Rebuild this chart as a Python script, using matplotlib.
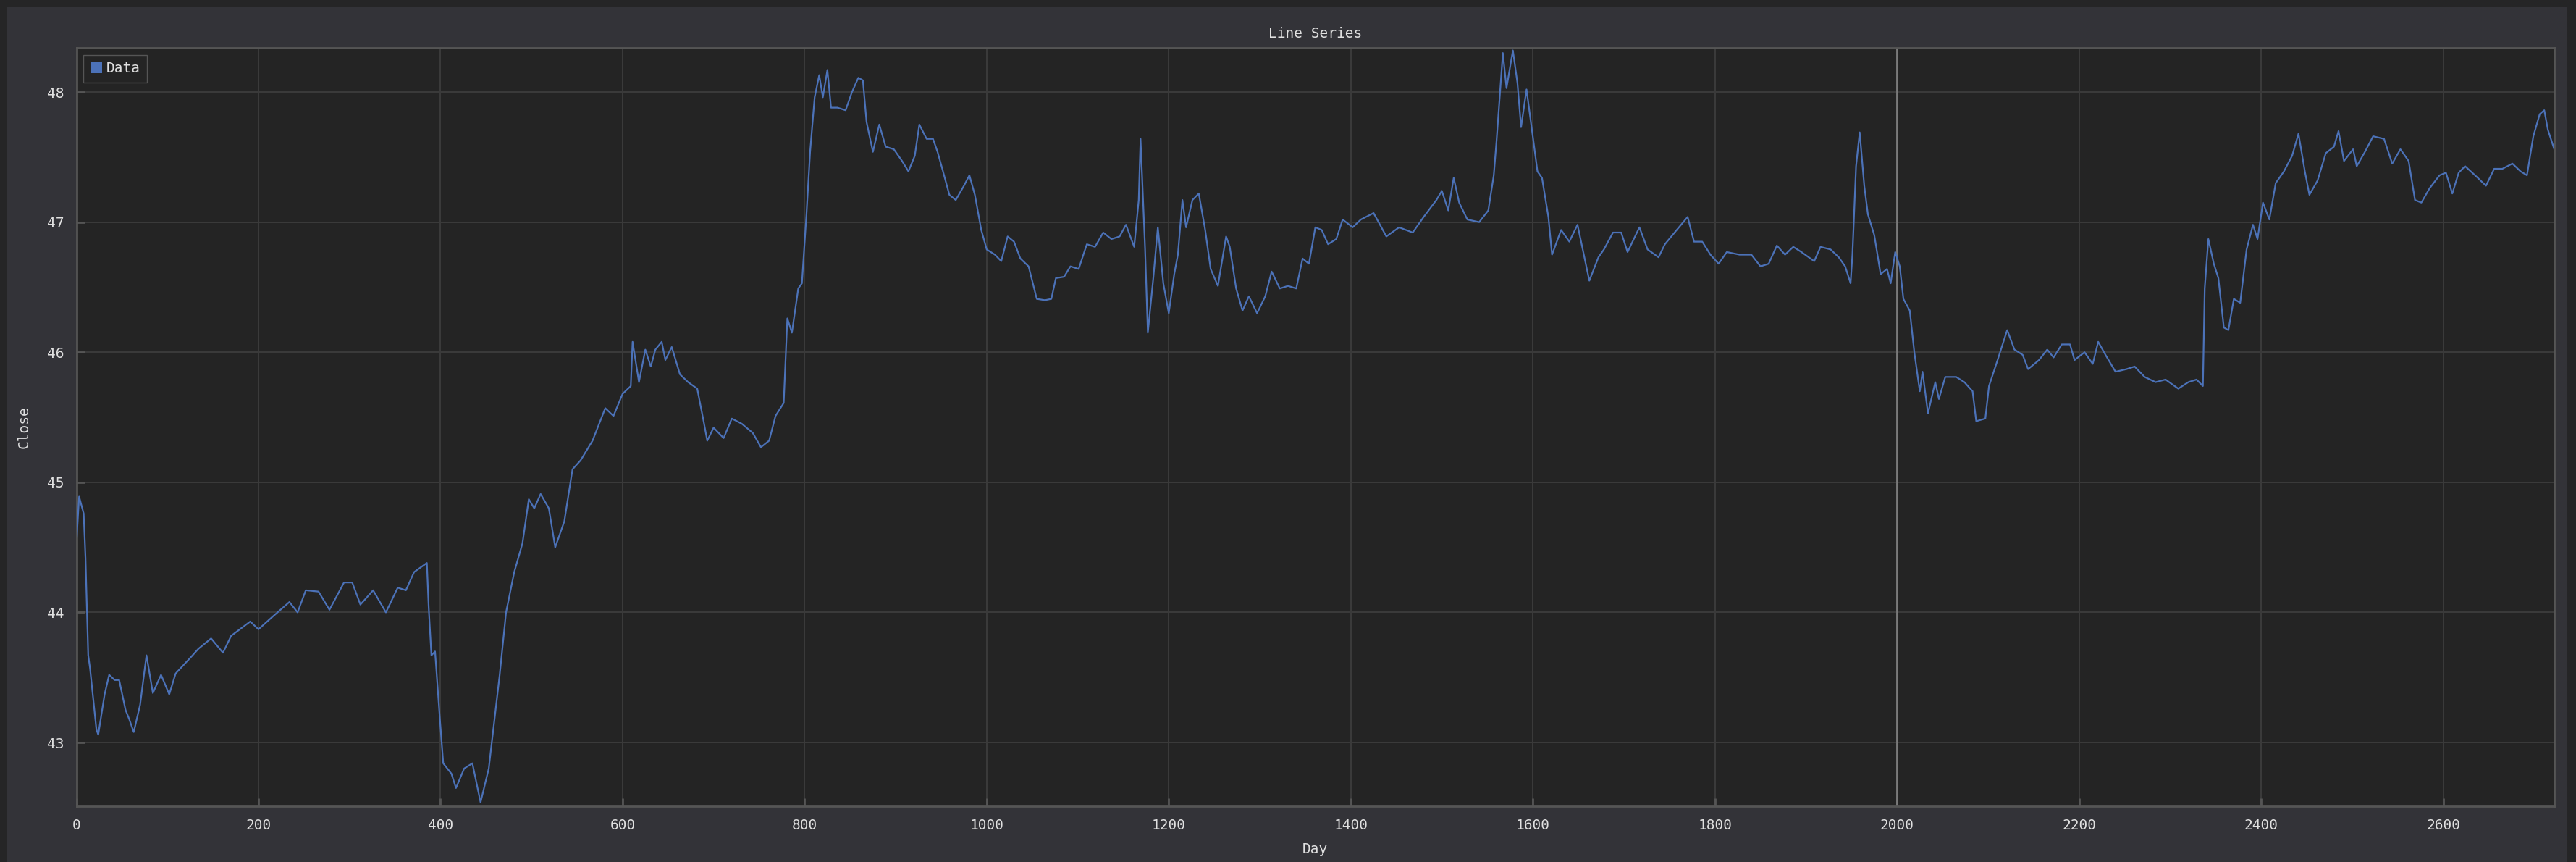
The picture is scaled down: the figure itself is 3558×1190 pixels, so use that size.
"""
Line Series chart: daily close values, dark ImPlot-like style.
"""

import matplotlib
matplotlib.use("Agg")
import matplotlib.pyplot as plt
from matplotlib.patches import Rectangle, Patch

# Values (day, close)
days = [
    0, 3, 8, 10, 13, 15, 22, 24, 31, 36, 42, 47, 54, 58, 63, 70, 77, 84, 93,
    102, 109, 125, 134, 148, 161, 170, 191, 200, 216, 234, 243, 252, 266,
    278, 294, 303, 312, 326, 340, 353, 362, 371, 385, 387, 390, 394, 399,
    403, 412, 417, 426, 435, 444, 453, 458, 465, 472, 481, 490, 497, 503,
    510, 519, 526, 536, 545, 554, 567, 581, 590, 600, 609, 611, 618, 625,
    631, 636, 643, 647, 654, 663, 672, 682, 689, 693, 700,
    711, 720, 731, 743, 752, 761, 768, 777, 781, 786, 793, 797, 802, 806,
    811, 816, 820, 825, 829, 836, 845, 852, 859, 864, 868, 875, 882, 889,
    898, 907, 914, 921, 926, 934, 941, 946, 952, 959, 966, 975, 981, 987,
    994, 1000, 1009, 1016, 1023, 1030, 1037, 1046, 1055, 1064, 1071, 1076,
    1085, 1092, 1101, 1110, 1119, 1128, 1137, 1146, 1153, 1162, 1167, 1169,
    1174, 1177, 1183, 1188, 1194, 1200, 1206, 1210, 1215, 1219, 1226, 1233,
    1240, 1246, 1254, 1263, 1267, 1274, 1281, 1288, 1297, 1306, 1313, 1322,
    1331, 1340, 1347, 1354, 1361, 1368, 1375, 1384,
    1391, 1402, 1411, 1425, 1439, 1453, 1468, 1480, 1494, 1500, 1507, 1513,
    1519, 1528, 1541, 1551, 1557, 1560, 1567, 1571, 1578, 1583, 1587, 1593,
    1601, 1605, 1610, 1617, 1621, 1631, 1640, 1649, 1656, 1662, 1672, 1678,
    1688, 1697, 1704, 1717, 1726, 1738, 1745, 1758, 1770, 1777, 1786, 1795,
    1804, 1813, 1827, 1840, 1850, 1859, 1868, 1877, 1886, 1895, 1909, 1916,
    1927, 1936, 1943, 1949, 1951, 1955, 1959, 1964, 1968, 1975, 1982, 1989,
    1993, 1998, 2003, 2007, 2014, 2019,
    2025, 2028, 2034, 2042, 2046, 2053, 2065, 2074, 2083, 2087, 2097, 2101,
    2110, 2121, 2129, 2138, 2144, 2156, 2165, 2172, 2181, 2190, 2195, 2206,
    2215, 2221, 2229, 2240, 2252, 2261, 2272, 2284, 2295, 2309, 2320, 2329,
    2336, 2338, 2342, 2348, 2353, 2359, 2364, 2370, 2377, 2384, 2391, 2396,
    2402, 2409, 2416, 2425, 2434, 2441, 2448, 2453, 2462, 2471, 2480, 2485,
    2491, 2501, 2505, 2514, 2523, 2535, 2544, 2553, 2562, 2569, 2576, 2585,
    2596, 2603, 2610, 2617, 2624, 2635, 2647, 2656, 2665, 2676, 2685, 2692,
    2699, 2706, 2711, 2715, 2722,
]
close = [
    44.53, 44.89, 44.76, 44.42, 43.67, 43.57, 43.10, 43.06, 43.37, 43.52,
    43.48, 43.48, 43.25, 43.18, 43.08, 43.29, 43.67, 43.38, 43.52, 43.37,
    43.53, 43.65, 43.72, 43.80, 43.69, 43.82, 43.93, 43.87, 43.97, 44.08,
    44.00, 44.17, 44.16, 44.02, 44.23, 44.23, 44.06, 44.17, 44.00, 44.19,
    44.17, 44.31, 44.38, 44.04, 43.67, 43.70, 43.21, 42.84, 42.76, 42.65,
    42.80, 42.84, 42.54, 42.80, 43.10, 43.52, 44.00, 44.31, 44.53, 44.87,
    44.80, 44.91, 44.80, 44.50, 44.70, 45.10, 45.17, 45.32, 45.57, 45.51,
    45.68, 45.74, 46.08, 45.77, 46.02, 45.89, 46.02, 46.08, 45.94, 46.04,
    45.83, 45.77, 45.72, 45.47, 45.32, 45.42,
    45.34, 45.49, 45.45, 45.38, 45.27, 45.32, 45.51, 45.61, 46.26, 46.15,
    46.49, 46.53, 47.06, 47.54, 47.96, 48.13, 47.96, 48.17, 47.88, 47.88,
    47.86, 48.00, 48.11, 48.09, 47.77, 47.54, 47.75, 47.58, 47.56, 47.47,
    47.39, 47.51, 47.75, 47.64, 47.64, 47.54, 47.39, 47.21, 47.17, 47.28,
    47.36, 47.21, 46.94, 46.79, 46.75, 46.70, 46.89, 46.85, 46.72, 46.66,
    46.41, 46.40, 46.41, 46.57, 46.58, 46.66, 46.64, 46.83, 46.81, 46.92,
    46.87, 46.89, 46.98, 46.81, 47.17, 47.64, 46.79, 46.15, 46.57, 46.96,
    46.53, 46.30, 46.60, 46.75, 47.17, 46.96, 47.17, 47.22, 46.94, 46.64,
    46.51, 46.89, 46.81, 46.49, 46.32, 46.43, 46.30, 46.43, 46.62, 46.49,
    46.51, 46.49, 46.72, 46.68, 46.96, 46.94, 46.83, 46.87,
    47.02, 46.96, 47.02, 47.07, 46.89, 46.96, 46.92, 47.04, 47.17, 47.24,
    47.09, 47.34, 47.15, 47.02, 47.00, 47.09, 47.36, 47.62, 48.30, 48.03,
    48.32, 48.07, 47.73, 48.02, 47.60, 47.39, 47.34, 47.04, 46.75, 46.94,
    46.85, 46.98, 46.75, 46.55, 46.73, 46.79, 46.92, 46.92, 46.77, 46.96,
    46.79, 46.73, 46.83, 46.94, 47.04, 46.85, 46.85, 46.75, 46.68, 46.77,
    46.75, 46.75, 46.66, 46.68, 46.82, 46.75, 46.81, 46.77, 46.70, 46.81,
    46.79, 46.73, 46.66, 46.53, 46.75, 47.43, 47.69, 47.28, 47.06, 46.90,
    46.60, 46.64, 46.53, 46.77, 46.66, 46.41, 46.32, 46.00,
    45.70, 45.85, 45.53, 45.77, 45.64, 45.81, 45.81, 45.77, 45.70, 45.47,
    45.49, 45.74, 45.93, 46.17, 46.02, 45.98, 45.87, 45.94, 46.02, 45.96,
    46.06, 46.06, 45.94, 46.00, 45.91, 46.08, 45.98, 45.85, 45.87, 45.89,
    45.81, 45.77, 45.79, 45.72, 45.77, 45.79, 45.74, 46.49, 46.87, 46.68,
    46.57, 46.19, 46.17, 46.41, 46.38, 46.79, 46.98, 46.87, 47.15, 47.02,
    47.30, 47.39, 47.51, 47.68, 47.39, 47.21, 47.32, 47.53, 47.58, 47.70,
    47.47, 47.56, 47.43, 47.54, 47.66, 47.64, 47.45, 47.56, 47.47, 47.17,
    47.15, 47.26, 47.36, 47.38, 47.22, 47.38, 47.43, 47.36, 47.28, 47.41,
    47.41, 47.45, 47.39, 47.36, 47.66, 47.83, 47.86, 47.71, 47.56,
]

line_color = "#4c72b8"
text_color = "#e0e0e0"

plt.rcParams["font.family"] = ["DejaVu Sans Mono"]

fig = plt.figure(figsize=(35.58, 11.90), dpi=100, facecolor="#252526")
# inner window panel, kept behind the axes
panel = Rectangle((10 / 3558, 0), 3535 / 3558, 1 - 9 / 1190,
                  transform=fig.transFigure, facecolor="#333338",
                  edgecolor="none", zorder=-10)
fig.add_artist(panel)

ax = fig.add_axes([105.5 / 3558, 1 - 1113 / 1190,
                   (3528 - 105.5) / 3558, (1113 - 66) / 1190])
ax.set_zorder(1)
ax.set_facecolor("#242424")

ax.plot(days, close, color=line_color, linewidth=1.6, label="Data", zorder=3)
ax.axvline(2000, color="#7a7a7a", linewidth=2.0, zorder=2)

ax.set_xlim(0, 2722)
ax.set_ylim(42.51, 48.34)
ax.set_xticks(range(0, 2722, 200))
ax.set_yticks([43, 44, 45, 46, 47, 48])

ax.grid(True, color="#3a3a3a", linewidth=1.5)
ax.set_axisbelow(True)
for side in ax.spines.values():
    side.set_color("#555555")
    side.set_linewidth(2)
ax.tick_params(colors="#555555", labelcolor=text_color, labelsize=14,
               length=8, width=2, direction="in", pad=12)

ax.set_title("Line Series", color=text_color, fontsize=14, pad=10)
ax.set_xlabel("Day", color=text_color, fontsize=14, labelpad=10)
ax.set_ylabel("Close", color=text_color, fontsize=14, labelpad=16)

leg = ax.legend(handles=[Patch(facecolor=line_color, label="Data")],
                loc="upper left", fontsize=14, frameon=True,
                facecolor="#242424", edgecolor="#555555",
                handlelength=0.8, handleheight=0.8, handletextpad=0.3,
                borderpad=0.5, fancybox=False, framealpha=1.0)
for t in leg.get_texts():
    t.set_color(text_color)

fig.savefig("out.png", dpi=100, facecolor=fig.get_facecolor())
